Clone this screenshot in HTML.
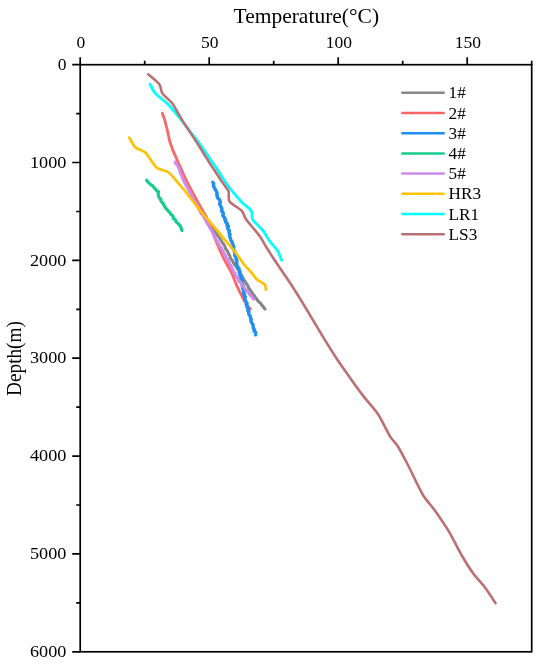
<!DOCTYPE html>
<html><head><meta charset="utf-8"><title>Temperature vs Depth</title>
<style>
html,body{margin:0;padding:0;background:#fff;}
svg{display:block;}
text{font-family:"Liberation Serif",serif;fill:#000;}
.tick{font-size:17.5px;}
.leg{font-size:17.2px;}
.ttl{font-size:20.5px;}
.ax{stroke:#000;stroke-width:1.7;fill:none;stroke-linecap:butt;}
.c{fill:none;stroke-linejoin:round;stroke-linecap:round;}
</style></head><body>
<svg width="550" height="666" viewBox="0 0 550 666">
<rect width="550" height="666" fill="#fff"/>
<polyline class="c" stroke="#868686" stroke-width="3.1" points="204.5,214.0 205.1,215.2 206.0,216.5 206.6,217.9 207.0,219.2 207.7,220.5 208.6,221.7 209.7,223.0 210.4,224.2 211.5,225.5 212.4,226.6 213.5,227.8 214.1,229.0 214.3,230.2 215.1,231.5 215.7,232.6 216.7,233.8 217.4,234.8 217.9,235.9 219.0,237.0 219.6,238.1 220.4,239.3 221.4,240.6 221.8,241.8 222.7,243.1 223.6,244.3 224.5,245.5 225.0,246.8 225.4,248.1 226.0,249.4 227.1,250.6 227.8,251.8 228.3,253.1 228.9,254.4 229.7,255.7 230.1,256.9 230.5,258.2 231.5,259.5 232.4,260.5 232.9,261.7 233.4,262.8 234.3,263.9 235.0,265.1 235.8,266.2 236.7,267.4 237.3,268.5 238.3,269.7 239.1,270.8 239.4,271.9 240.1,273.1 241.1,274.1 241.3,275.3 242.0,276.5 242.8,277.6 243.1,278.8 244.0,280.0 245.0,281.1 245.4,282.3 246.2,283.3 247.1,284.6 247.8,285.7 248.2,286.7 248.7,287.9 249.4,289.0 250.2,290.1 251.0,291.2 251.6,292.3 252.5,293.5 253.2,294.7 254.4,295.7 255.0,296.8 255.8,297.9 256.9,299.2 257.5,300.2 258.4,301.3 259.6,302.5 261.0,303.6 261.4,304.8 262.5,305.8 263.3,306.8 264.2,308.0 265.0,309.0"/>
<path class="c" stroke="#fc6666" stroke-width="2.8" d="M162.4,113.3 C162.5,113.7 163.1,115.4 163.4,116.2 C163.7,117.0 164.3,118.5 164.6,119.6 C164.9,120.7 165.6,123.2 165.9,124.5 C166.2,125.8 166.8,128.2 167.1,129.4 C167.4,130.6 167.9,132.7 168.1,133.8 C168.3,134.9 168.8,137.2 169.0,138.2 C169.2,139.2 169.6,140.9 169.9,141.8 C170.2,142.7 170.6,143.9 171.0,145.0 C171.4,146.1 172.3,149.0 172.9,150.4 C173.5,151.8 174.7,154.4 175.3,155.8 C175.9,157.2 177.1,159.8 177.7,161.2 C178.3,162.6 179.1,164.3 180.2,166.8 C181.3,169.3 184.7,177.0 186.4,180.5 C188.1,184.0 191.9,191.0 193.6,194.1 C195.3,197.2 197.7,201.8 199.1,204.5 C200.5,207.2 203.2,211.7 204.7,214.5 C206.2,217.3 208.8,222.5 210.3,226.0 C211.8,229.5 215.1,238.7 216.3,241.7 C217.5,244.7 218.2,246.6 219.4,249.2 C220.6,251.8 223.9,258.8 225.5,261.9 C227.1,265.0 230.4,270.2 231.9,273.4 C233.4,276.6 235.5,282.9 237.0,286.2 C238.5,289.5 242.2,296.7 243.4,299.0 C244.6,301.3 245.6,302.7 246.5,304.0 C247.4,305.3 249.8,308.4 250.3,309.1"/>
<polyline class="c" stroke="#1f8ff0" stroke-width="3.4" points="212.8,182.4 213.8,183.9 213.4,185.2 213.8,186.8 214.8,188.2 215.0,189.4 216.3,191.1 216.8,192.3 217.2,193.5 216.7,194.7 217.3,195.7 217.3,197.1 218.1,198.5 219.5,199.6 220.0,201.1 220.4,202.3 219.7,203.7 220.0,205.1 221.1,206.9 221.8,208.2 221.9,209.7 221.5,211.0 223.1,212.4 223.3,213.7 222.8,215.2 223.4,216.5 225.0,218.0 224.8,219.8 225.9,220.8 225.6,222.1 227.4,223.8 226.9,225.1 228.4,226.4 227.8,227.7 227.8,228.9 229.4,230.5 229.0,232.0 229.2,233.3 230.1,234.4 229.5,235.8 230.0,237.2 230.4,238.4 230.7,239.9 231.5,241.0 232.3,242.5 232.5,243.7 233.1,244.8 233.5,245.9 233.7,247.2 233.3,248.8 233.8,250.0 234.8,251.3 234.5,252.5 235.1,254.0 234.7,255.1 235.1,256.3 236.2,257.8 236.1,259.4 236.9,260.7 236.7,262.1 236.8,263.7 236.9,265.0 237.4,266.4 238.2,267.7 239.1,268.6 239.0,270.2 239.9,271.1 239.3,272.4 239.7,273.6 239.9,275.2 241.3,276.7 240.6,278.0 241.6,279.1 242.2,280.9 241.5,282.2 242.0,283.4 243.1,285.0 242.2,286.2 243.0,287.5 242.7,288.9 243.8,290.1 243.9,291.6 243.4,292.8 244.6,294.2 244.0,295.7 245.4,297.0 244.7,298.0 244.9,299.5 245.6,300.5 246.1,302.2 247.0,303.2 246.3,304.8 247.3,306.1 247.0,307.3 248.3,308.9 247.8,310.6 249.0,311.8 248.6,313.1 248.9,314.4 249.9,315.4 250.4,317.0 250.4,318.0 251.2,319.3 250.9,320.6 251.2,321.9 252.0,323.3 253.0,324.6 253.0,325.8 253.2,327.1 253.4,328.3 254.5,329.9 254.0,331.1 255.5,332.2 255.7,333.6 255.6,334.9"/>
<polyline class="c" stroke="#18cc8c" stroke-width="3.2" points="146.6,180.3 147.7,181.6 148.6,182.6 150.0,183.9 150.8,184.8 152.5,185.7 153.3,186.6 154.0,187.5 154.9,188.7 156.0,189.4 156.7,190.7 158.6,191.6 158.1,193.0 158.4,194.8 158.6,196.4 159.4,197.9 160.9,199.0 160.7,200.5 161.6,201.5 162.1,202.7 163.5,204.0 164.0,205.2 164.5,206.3 165.4,207.5 166.1,208.6 167.3,209.8 168.4,211.1 169.6,212.4 170.5,213.6 171.1,214.6 172.8,215.8 173.3,217.2 173.3,218.5 175.3,219.6 175.9,220.9 176.0,221.8 177.4,222.9 178.6,223.9 179.2,224.9 180.5,226.3 181.1,227.5 181.3,229.1 182.0,230.6"/>
<polyline class="c" stroke="#cc8ce8" stroke-width="3.1" points="175.2,162.0 175.6,163.3 176.7,164.4 177.6,165.6 178.2,166.7 178.9,168.2 179.2,169.4 179.8,170.6 180.4,172.0 180.4,173.3 181.4,174.6 181.9,176.1 182.2,177.3 182.7,178.6 183.6,179.9 184.1,181.1 184.4,182.4 185.5,183.8 186.0,185.0 186.3,186.3 187.4,187.7 188.1,188.9 188.7,190.2 189.3,191.4 190.3,192.6 191.1,194.1 191.0,195.2 192.3,196.6 192.7,197.6 193.2,199.1 193.9,200.3 194.6,201.5 196.0,202.7 196.7,204.1 197.4,205.3 197.5,206.6 198.3,207.5 198.6,208.8 199.6,210.0 200.0,211.2 200.8,212.5 201.2,213.7 202.6,214.6 203.3,215.9 204.0,217.0 204.3,218.1 205.4,219.3 205.6,220.4 206.3,221.5 206.8,222.8 207.6,224.0 208.3,224.9 209.1,226.1 209.7,227.5 210.7,228.7 211.1,229.9 212.0,231.1 212.5,232.1 213.1,233.4 213.8,234.7 214.0,235.8 215.2,237.0 215.4,238.3 215.9,239.6 217.2,240.7 217.7,241.9 218.3,243.1 218.7,244.3 219.5,245.7 220.4,246.8 221.5,248.2 221.8,249.2 222.4,250.4 223.1,251.6 223.6,252.7 224.5,254.0 225.2,255.1 225.6,256.3 226.2,257.4 226.5,258.5 227.8,259.6 228.1,260.9 229.0,261.9 229.1,263.1 229.8,264.3 230.9,265.5 231.4,266.5 231.3,267.8 232.6,268.9 233.0,270.0 233.4,271.4 234.4,272.5 235.1,273.5 235.0,274.7 235.9,275.9 237.1,277.1 237.7,278.3 238.3,279.5 238.8,280.7 239.8,281.9 241.0,283.0 241.4,284.2 242.6,285.4 243.1,286.4 244.4,287.7 245.2,288.8 246.3,289.9 247.0,291.1 248.4,292.3 249.3,293.4 249.7,294.5 251.2,295.8 251.7,296.8 252.8,298.1 253.7,299.2"/>
<path class="c" stroke="#fcc306" stroke-width="2.75" d="M129.3,137.7 C130.1,139.0 133.4,145.5 135.5,147.5 C137.6,149.5 143.0,150.2 145.7,152.8 C148.4,155.4 153.4,164.9 156.4,167.5 C159.4,170.1 165.7,170.3 168.7,172.5 C171.7,174.7 176.6,181.2 179.1,184.1 C181.6,187.0 186.1,192.3 188.2,195.0 C190.3,197.7 193.9,202.4 195.5,204.5 C197.1,206.6 198.3,208.2 200.5,210.9 C202.7,213.6 209.4,221.4 212.5,225.0 C215.6,228.6 221.2,235.3 224.1,238.8 C227.0,242.3 232.3,248.5 235.0,251.9 C237.7,255.3 242.6,262.5 244.6,265.0 C246.6,267.5 248.9,269.6 250.5,271.5 C252.1,273.4 255.2,277.8 257.0,279.5 C258.8,281.2 263.4,283.0 264.6,284.3 C265.8,285.6 265.8,288.9 266.0,289.6"/>
<path class="c" stroke="#00ffff" stroke-width="2.8" d="M150.0,84.1 C150.7,85.3 153.2,91.0 155.3,93.4 C157.4,95.8 163.5,100.0 166.2,102.6 C168.9,105.2 173.8,110.9 176.0,113.5 C178.2,116.1 181.0,119.6 183.2,122.5 C185.4,125.4 190.9,132.4 193.3,135.6 C195.7,138.8 199.8,144.0 202.0,147.1 C204.2,150.2 208.7,157.0 210.6,159.8 C212.5,162.6 214.6,165.4 216.8,168.7 C219.0,172.0 224.2,180.7 227.4,185.0 C230.6,189.3 238.0,198.1 241.1,201.5 C244.2,204.9 249.8,208.5 251.3,210.9 C252.8,213.3 251.2,217.0 252.7,219.6 C254.2,222.2 260.8,227.9 263.0,230.7 C265.2,233.5 267.5,238.3 269.4,240.9 C271.3,243.5 276.1,248.3 277.7,250.8 C279.3,253.3 281.1,259.1 281.6,260.3"/>
<path class="c" stroke="#bb7074" stroke-width="2.6" d="M148.2,74.3 C149.7,75.6 157.6,81.9 159.4,84.4 C161.2,86.9 160.7,91.0 162.4,93.4 C164.1,95.8 170.2,100.7 172.2,103.2 C174.2,105.7 176.4,110.4 178.0,113.0 C179.6,115.6 182.7,121.0 184.3,123.5 C185.9,126.0 187.8,128.8 190.0,132.1 C192.2,135.4 198.1,144.5 200.9,149.0 C203.7,153.5 208.8,161.8 211.8,166.4 C214.8,171.0 221.6,181.2 223.8,184.4 C226.0,187.7 227.9,189.2 228.6,191.4 C229.3,193.6 227.8,199.0 229.5,201.5 C231.2,204.0 239.6,208.5 241.8,210.9 C244.0,213.3 243.9,216.4 246.2,219.6 C248.5,222.8 256.7,232.0 259.3,235.6 C261.9,239.2 264.4,244.1 266.4,247.3 C268.4,250.5 271.2,255.0 274.5,260.0 C277.8,265.0 287.7,279.1 291.8,285.5 C295.9,291.9 302.4,302.5 306.4,309.1 C310.4,315.7 318.8,330.0 322.7,336.4 C326.6,342.8 333.0,353.0 336.4,358.2 C339.8,363.4 345.6,371.4 349.1,376.4 C352.6,381.4 359.8,391.4 363.6,396.4 C367.4,401.4 374.8,409.3 378.2,414.5 C381.6,419.7 387.5,432.4 390.0,436.4 C392.5,440.4 394.9,441.7 397.3,445.5 C399.7,449.3 404.9,459.1 408.2,465.5 C411.5,471.9 419.3,488.7 422.7,494.5 C426.1,500.3 431.1,505.2 434.5,510.0 C437.9,514.8 445.6,525.9 449.1,531.8 C452.6,537.7 458.7,550.2 461.8,555.5 C464.9,560.8 469.6,568.4 472.7,572.7 C475.8,577.0 482.5,584.2 485.5,588.2 C488.5,592.2 494.2,601.2 495.5,603.1"/>
<rect class="ax" x="80.2" y="64.7" width="451.5" height="587.1"/>
<path class="ax" d="M80.2,64.7 V57.2 M144.7,64.7 V60.7 M209.2,64.7 V57.2 M273.7,64.7 V60.7 M338.2,64.7 V57.2 M402.7,64.7 V60.7 M467.2,64.7 V57.2 M531.7,64.7 V60.7 M80.2,64.7 H72.2 M80.2,113.6 H76.2 M80.2,162.5 H72.2 M80.2,211.5 H76.2 M80.2,260.4 H72.2 M80.2,309.3 H76.2 M80.2,358.2 H72.2 M80.2,407.2 H76.2 M80.2,456.1 H72.2 M80.2,505.0 H76.2 M80.2,553.9 H72.2 M80.2,602.9 H76.2 M80.2,651.8 H72.2"/>
<text class="tick" x="80.8" y="48" text-anchor="middle">0</text>
<text class="tick" x="209.8" y="48" text-anchor="middle">50</text>
<text class="tick" x="338.8" y="48" text-anchor="middle">100</text>
<text class="tick" x="467.8" y="48" text-anchor="middle">150</text>
<text class="tick" transform="translate(66.4,69.9) scale(1,1)" text-anchor="end">0</text>
<text class="tick" transform="translate(66.4,167.7) scale(1.04,1)" text-anchor="end">1000</text>
<text class="tick" transform="translate(66.4,265.6) scale(1.04,1)" text-anchor="end">2000</text>
<text class="tick" transform="translate(66.4,363.4) scale(1.04,1)" text-anchor="end">3000</text>
<text class="tick" transform="translate(66.4,461.3) scale(1.04,1)" text-anchor="end">4000</text>
<text class="tick" transform="translate(66.4,559.1) scale(1.04,1)" text-anchor="end">5000</text>
<text class="tick" transform="translate(66.4,657.0) scale(1.04,1)" text-anchor="end">6000</text>
<text class="ttl" transform="translate(306.3,22.6) scale(1.049,1)" text-anchor="middle">Temperature(°C)</text>
<text class="ttl" transform="translate(21.3,358.5) rotate(-90) scale(0.939,1.049)" text-anchor="middle">Depth(m)</text>
<line x1="402.3" y1="92.8" x2="443.7" y2="92.8" stroke="#868686" stroke-width="2.5" stroke-linecap="round"/>
<text class="leg" x="448.6" y="98.4">1#</text>
<line x1="402.3" y1="113.0" x2="443.7" y2="113.0" stroke="#fc6666" stroke-width="2.5" stroke-linecap="round"/>
<text class="leg" x="448.6" y="118.6">2#</text>
<line x1="402.3" y1="133.2" x2="443.7" y2="133.2" stroke="#1f8ff0" stroke-width="2.5" stroke-linecap="round"/>
<text class="leg" x="448.6" y="138.8">3#</text>
<line x1="402.3" y1="153.4" x2="443.7" y2="153.4" stroke="#18cc8c" stroke-width="2.5" stroke-linecap="round"/>
<text class="leg" x="448.6" y="159.0">4#</text>
<line x1="402.3" y1="173.6" x2="443.7" y2="173.6" stroke="#cc8ce8" stroke-width="2.5" stroke-linecap="round"/>
<text class="leg" x="448.6" y="179.2">5#</text>
<line x1="402.3" y1="193.8" x2="443.7" y2="193.8" stroke="#fcc306" stroke-width="2.5" stroke-linecap="round"/>
<text class="leg" x="448.6" y="199.4">HR3</text>
<line x1="402.3" y1="214.0" x2="443.7" y2="214.0" stroke="#00ffff" stroke-width="2.5" stroke-linecap="round"/>
<text class="leg" x="448.6" y="219.6">LR1</text>
<line x1="402.3" y1="234.2" x2="443.7" y2="234.2" stroke="#bb7074" stroke-width="2.5" stroke-linecap="round"/>
<text class="leg" x="448.6" y="239.8">LS3</text>
</svg>
</body></html>
